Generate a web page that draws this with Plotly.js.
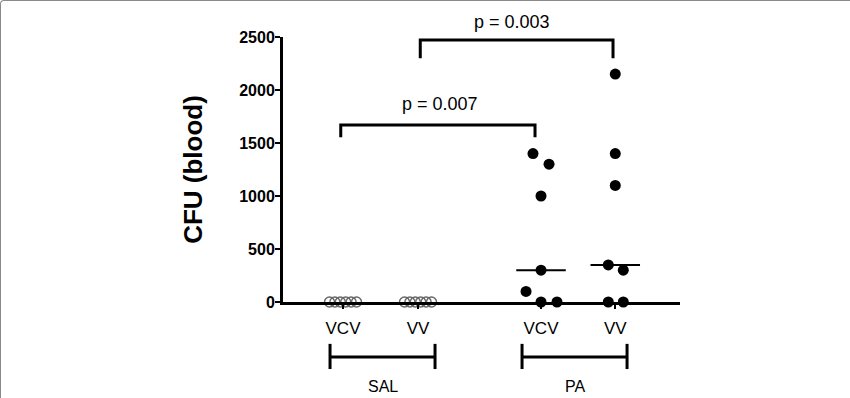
<!DOCTYPE html>
<html>
<head>
<meta charset="utf-8">
<script src="https://cdn.plot.ly/plotly-3.0.1.min.js"></script>
<style>
html,body{margin:0;padding:0;background:#fff;}
#chart{width:850px;height:398px;position:relative;}
#frame{position:absolute;left:0;top:0;width:849px;height:397px;border-top:1px solid #8a8a8a;border-left:1px solid #8a8a8a;border-top-left-radius:4px;pointer-events:none;}
</style>
</head>
<body>
<div id="chart"></div><div id="frame"></div>
<script>
// Category positions along the axis (SAL VCV, SAL VV, PA VCV, PA VV)
const categories = ["VCV", "VV", "VCV", "VV"];
const groups = ["SAL", "PA"];
const catPos = [1, 2, 3.64, 4.63];

// CFU values per group
const salVCV = [0, 0, 0, 0, 0, 0];
const salVV  = [0, 0, 0, 0, 0, 0];
const paVCV  = [1400, 1300, 1000, 300, 100, 0, 0];
const paVV   = [2150, 1400, 1100, 350, 300, 0, 0];

// horizontal scatter offsets (jitter) of the dots
const salJit  = [-0.18, -0.108, -0.036, 0.036, 0.108, 0.18];
const paVCVJit = [-0.107, 0.107, 0, 0, -0.2, 0, 0.213];
const paVVJit  = [0, 0, 0, -0.093, 0.107, -0.093, 0.107];

// medians
const medians = [0, 0, 300, 350];

// significance
const pTexts = ["p = 0.007", "p = 0.003"];

const FONT = "Liberation Sans, Arial, Helvetica, sans-serif";

function xs(pos, jit){ return jit.map(j => pos + j); }

const traces = [];
traces.push({x: xs(catPos[0], salJit), y: salVCV, mode: "markers", type: "scatter", cliponaxis: false,
  marker: {symbol: "circle-open", size: 10, color: "#666", line: {width: 1.4, color: "#666"}}, hoverinfo: "y"});
traces.push({x: xs(catPos[1], salJit), y: salVV, mode: "markers", type: "scatter", cliponaxis: false,
  marker: {symbol: "circle-open", size: 10, color: "#666", line: {width: 1.4, color: "#666"}}, hoverinfo: "y"});
traces.push({x: xs(catPos[2], paVCVJit), y: paVCV, mode: "markers", type: "scatter", cliponaxis: false,
  marker: {symbol: "circle", size: 11, color: "#000"}, hoverinfo: "y"});
traces.push({x: xs(catPos[3], paVVJit), y: paVV, mode: "markers", type: "scatter", cliponaxis: false,
  marker: {symbol: "circle", size: 11, color: "#000"}, hoverinfo: "y"});
// median bars (PA groups)
[2, 3].forEach(i => {
  traces.push({x: [catPos[i] - 0.33, catPos[i] + 0.33], y: [medians[i], medians[i]], mode: "lines", type: "scatter",
    cliponaxis: false, line: {color: "#000", width: 2}, hoverinfo: "skip"});
});

const LW = 3;
const shapes = [];
// significance brackets (data coords)
function bracket(x0, x1, yTop, yTip){
  shapes.push({type: "path", xref: "x", yref: "y",
    path: `M ${x0} ${yTip} L ${x0} ${yTop} L ${x1} ${yTop} L ${x1} ${yTip}`,
    line: {color: "#000", width: LW}});
}
bracket(0.97, 3.56, 1670, 1555);
bracket(2.03, 4.60, 2472, 2300);

// group brackets below the axis (paper y)
function gbracket(x0, x1){
  shapes.push({type: "line", xref: "x", yref: "paper", x0: x0, x1: x1, y0: -0.2075, y1: -0.2075, line: {color: "#000", width: LW}});
  shapes.push({type: "line", xref: "x", yref: "paper", x0: x0, x1: x0, y0: -0.158, y1: -0.253, line: {color: "#000", width: LW}});
  shapes.push({type: "line", xref: "x", yref: "paper", x0: x1, x1: x1, y0: -0.158, y1: -0.253, line: {color: "#000", width: LW}});
}
gbracket(0.827, 2.227);
gbracket(3.387, 4.787);

const annotations = [
  {x: 2.29, y: 1868, xref: "x", yref: "y", yanchor: "middle", text: pTexts[0], showarrow: false, font: {family: FONT, size: 18, color: "#000"}},
  {x: 3.25, y: 1.057, xref: "x", yref: "paper", yanchor: "middle", text: pTexts[1], showarrow: false, font: {family: FONT, size: 18, color: "#000"}},
  {x: (0.827 + 2.227) / 2, y: -0.32, xref: "x", yref: "paper", yanchor: "middle", text: groups[0], showarrow: false, font: {family: FONT, size: 16, color: "#000"}},
  {x: (3.387 + 4.787) / 2, y: -0.32, xref: "x", yref: "paper", yanchor: "middle", text: groups[1], showarrow: false, font: {family: FONT, size: 16, color: "#000"}}
];

const layout = {
  width: 850, height: 398,
  margin: {l: 283, r: 170, t: 37, b: 96, pad: 0},
  paper_bgcolor: "#fff", plot_bgcolor: "#fff",
  showlegend: false,
  font: {family: FONT, color: "#000"},
  xaxis: {
    range: [0.2, 5.493], showgrid: false, zeroline: false,
    tickvals: catPos, ticktext: categories,
    ticks: "outside", ticklen: 4, tickwidth: 2, tickcolor: "#000",
    ticklabelstandoff: 5,
    showline: true, linecolor: "#000", linewidth: LW,
    tickfont: {family: FONT, size: 17, color: "#000"}
  },
  yaxis: {
    range: [0, 2500], showgrid: false, zeroline: false,
    tickvals: [0, 500, 1000, 1500, 2000, 2500],
    ticks: "outside", ticklen: 5, tickwidth: 2, tickcolor: "#000",
    ticklabelstandoff: -3,
    showline: true, linecolor: "#000", linewidth: LW,
    tickfont: {family: FONT, size: 16, color: "#000", weight: "bold"},
    title: {text: "CFU (blood)", font: {family: FONT, size: 26, color: "#000", weight: "bold"}, standoff: 30},
    automargin: false
  },
  shapes: shapes,
  annotations: annotations
};

Plotly.newPlot("chart", traces, layout, {displayModeBar: false, staticPlot: true});
</script>
</body>
</html>
